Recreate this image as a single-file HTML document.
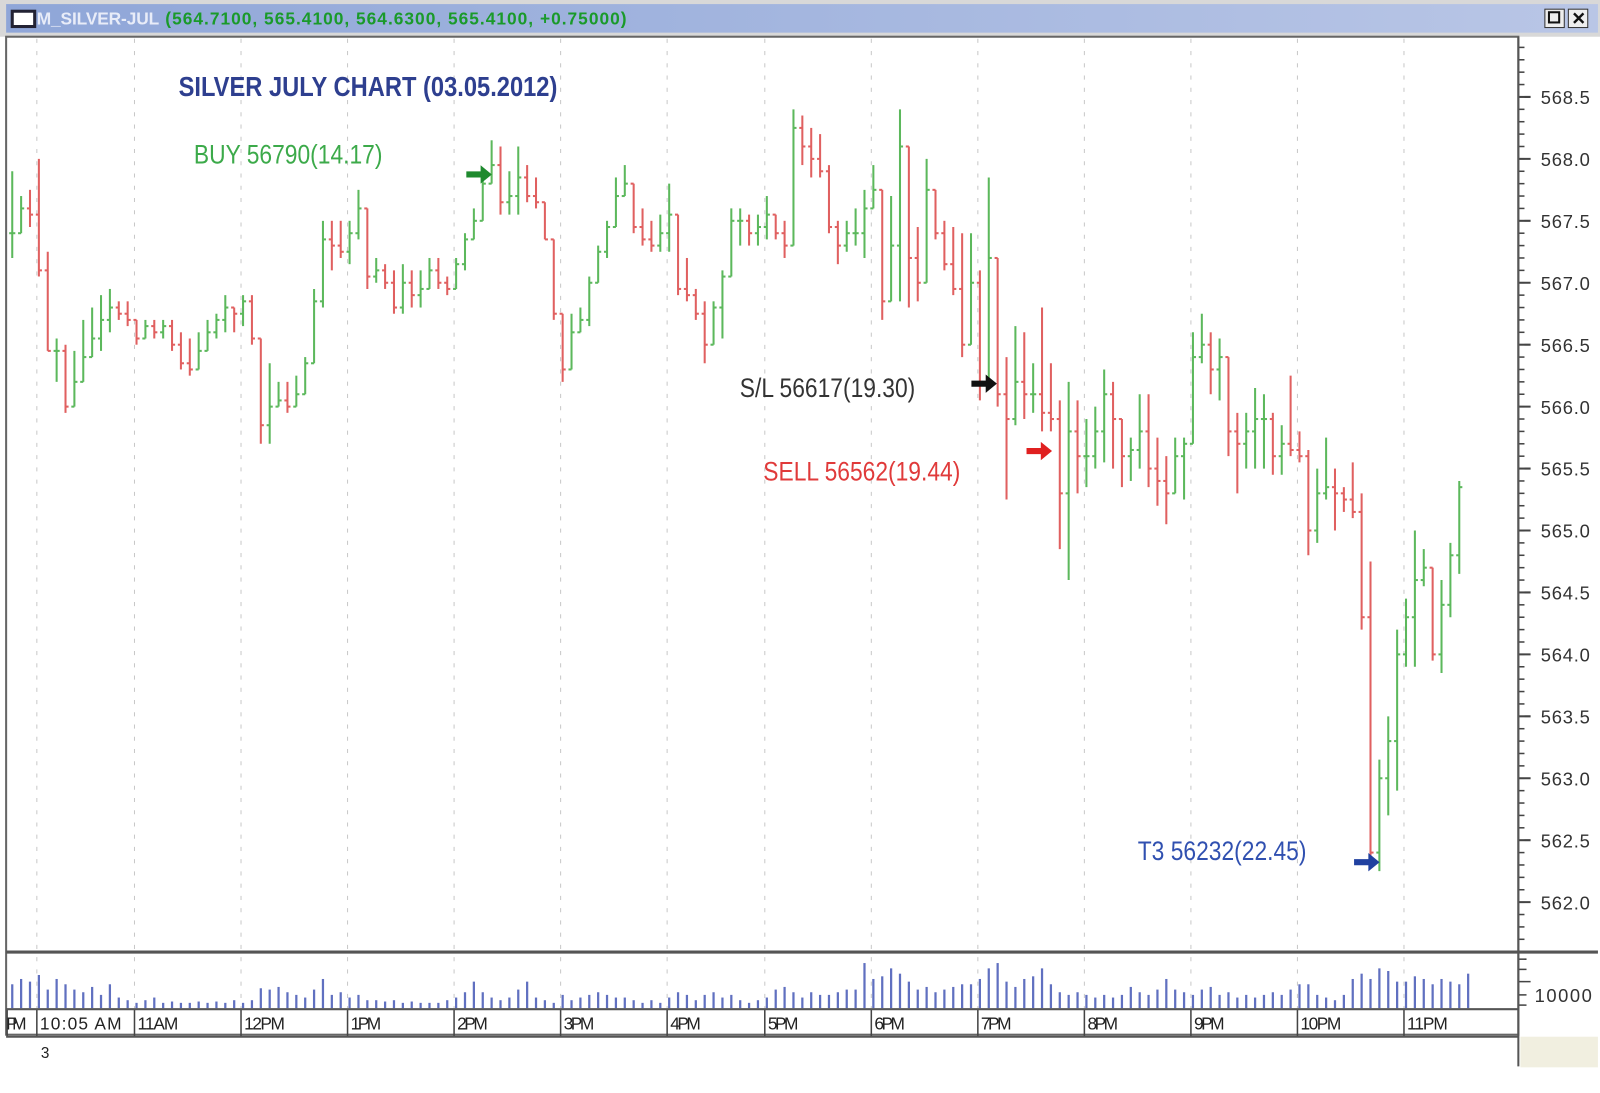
<!DOCTYPE html>
<html><head><meta charset="utf-8"><style>
body{margin:0;width:1600px;height:1066px;background:#fff;overflow:hidden;font-family:"Liberation Sans",sans-serif}
#wrap{position:relative;width:1600px;height:1066px;transform:scale(1.0204);transform-origin:0 0}
.t{position:absolute;white-space:nowrap;transform-origin:0 0}
</style></head><body>
<div id="wrap">
<svg id="svg" width="1600" height="1066">
<defs><linearGradient id="tb" x1="0" x2="1"><stop offset="0" stop-color="#8fa6d8"/><stop offset="1" stop-color="#b9c6e6"/></linearGradient></defs>
<rect x="0" y="0" width="1600" height="1066" fill="#fff"/>
<rect x="0" y="0" width="1600" height="36" fill="#d8d8d8"/>
<rect x="6" y="4" width="1560" height="28" fill="url(#tb)"/>
<rect x="12" y="11" width="22" height="15" fill="#fff" stroke="#223" stroke-width="3"/>
<text x="36" y="24" font-size="17" font-weight="bold" fill="#e8ecf8" font-family="Liberation Sans" textLength="120">M_SILVER-JUL</text>
<text x="162" y="24" font-size="17" font-weight="bold" fill="#1a9a2a" font-family="Liberation Sans" textLength="452">(564.7100, 565.4100, 564.6300, 565.4100, +0.75000)</text>
<rect x="1514" y="9" width="19" height="18" fill="#eee" stroke="#333"/>
<rect x="1518" y="12" width="10" height="10" fill="none" stroke="#111" stroke-width="2"/>
<rect x="1537" y="9" width="19" height="18" fill="#eee" stroke="#333"/>
<text x="1540" y="24" font-size="17" font-weight="bold" fill="#111">✕</text>
<rect x="6" y="36" width="1482" height="978" fill="none" stroke="#666" stroke-width="2"/>
<g id="grid"></g><g id="bars"></g><g id="vol"></g><g id="axis"></g>
<line x1="6" y1="933" x2="1566" y2="933" stroke="#555" stroke-width="3"/>
<line x1="6" y1="989" x2="1488" y2="989" stroke="#555" stroke-width="2"/>
<line x1="6" y1="1016" x2="1488" y2="1016" stroke="#555" stroke-width="2"/>
<line x1="1488" y1="36" x2="1488" y2="1045" stroke="#555" stroke-width="2"/>
<rect x="1490" y="1016" width="76" height="30" fill="#f1efe0"/>
<g>
<path d="M457 168h14v-6l11 9-11 9v-6h-14z" fill="#1e8a2e"/>
<path d="M952 373h14v-6l11 9-11 9v-6h-14z" fill="#111"/>
<path d="M1006 439h14v-6l11 9-11 9v-6h-14z" fill="#e02020"/>
<path d="M1327 842h14v-6l11 9-11 9v-6h-14z" fill="#2040a0"/>
</g>
</svg>
<div class="t" style="left:175px;top:70px;font-size:27px;font-weight:bold;color:#2e3f8f;transform:scaleX(0.86)">SILVER JULY CHART (03.05.2012)</div>
<div class="t" style="left:190px;top:136px;font-size:26px;color:#3caa4a;transform:scaleX(0.86)">BUY 56790(14.17)</div>
<div class="t" style="left:725px;top:365px;font-size:26px;color:#333;transform:scaleX(0.86)">S/L 56617(19.30)</div>
<div class="t" style="left:748px;top:447px;font-size:26px;color:#e03a3a;transform:scaleX(0.86)">SELL 56562(19.44)</div>
<div class="t" style="left:1115px;top:819px;font-size:26px;color:#3050b0;transform:scaleX(0.86)">T3 56232(22.45)</div>
</div>
<script>
const closes=[567.4,567.6,567.55,567.1,566.45,566.45,566.0,566.2,566.4,566.55,566.7,566.8,566.75,566.7,566.55,566.65,566.6,566.65,566.5,566.35,566.3,566.45,566.6,566.7,566.8,566.75,566.85,566.55,565.85,566.0,566.05,566.0,566.1,566.35,566.85,567.35,567.3,567.25,567.4,567.6,567.05,567.1,567.0,566.8,567.0,566.9,566.95,567.1,567.0,566.95,567.15,567.35,567.5,567.8,567.95,567.65,567.7,567.85,567.7,567.65,567.35,566.75,566.3,566.6,566.7,567.0,567.25,567.45,567.7,567.8,567.45,567.35,567.3,567.4,567.55,566.95,566.9,566.75,566.5,566.8,567.05,567.5,567.5,567.4,567.45,567.55,567.4,567.3,568.25,568.1,568.0,567.9,567.45,567.3,567.4,567.4,567.6,567.75,566.85,567.3,568.1,567.2,567.0,567.75,567.4,567.15,566.95,566.5,567.0,566.2,567.2,566.1,565.9,566.2,566.1,566.1,565.95,565.9,565.3,565.8,565.6,565.6,565.8,566.1,565.9,565.6,565.65,565.8,565.5,565.4,565.3,565.6,565.7,566.4,566.5,566.3,566.4,565.8,565.7,565.8,565.9,565.9,565.6,565.7,565.65,565.6,565.0,565.3,565.35,565.3,565.25,565.15,564.3,562.4,563.0,563.3,564.0,564.3,564.6,564.7,564.0,564.4,564.8,565.35];
const highs=[567.9,567.7,567.75,568.0,567.25,566.55,566.5,566.45,566.7,566.8,566.9,566.95,566.85,566.85,566.7,566.7,566.7,566.7,566.7,566.6,566.55,566.6,566.7,566.75,566.9,566.8,566.9,566.9,566.5,566.35,566.2,566.2,566.25,566.4,566.95,567.5,567.5,567.5,567.5,567.75,567.6,567.2,567.15,567.1,567.15,567.1,567.1,567.2,567.2,567.05,567.2,567.4,567.6,567.9,568.15,568.1,567.9,568.1,567.95,567.85,567.6,567.35,566.75,566.75,566.8,567.05,567.3,567.5,567.85,567.95,567.8,567.6,567.5,567.55,567.8,567.35,567.2,566.95,566.85,566.85,567.1,567.6,567.6,567.55,567.55,567.7,567.5,567.5,568.4,568.35,568.25,568.2,567.95,567.5,567.5,567.6,567.75,567.95,567.6,567.7,568.4,568.05,567.45,568.0,567.75,567.5,567.45,567.4,567.4,567.1,567.85,567.2,566.4,566.65,566.6,566.35,566.8,566.35,566.05,566.2,566.05,565.9,566.0,566.3,566.2,565.8,565.75,566.1,566.1,565.75,565.6,565.75,565.75,566.6,566.75,566.6,566.55,566.35,565.95,565.95,566.15,566.1,565.95,565.85,566.25,565.8,565.65,565.5,565.75,565.5,565.35,565.55,565.3,564.75,563.15,563.5,564.2,564.45,565.0,564.85,564.5,564.6,564.9,565.4];
const lows=[567.2,567.45,567.45,567.05,566.45,566.2,565.95,566.05,566.3,566.45,566.45,566.6,566.7,566.65,566.5,566.55,566.55,566.55,566.45,566.3,566.25,566.3,566.5,566.55,566.6,566.6,566.65,566.5,565.7,565.7,566.0,565.95,566.0,566.2,566.35,566.8,567.1,567.2,567.15,567.35,566.95,567.0,566.95,566.75,566.75,566.8,566.8,566.95,566.95,566.9,567.0,567.1,567.4,567.5,567.9,567.55,567.55,567.55,567.65,567.6,567.35,566.7,566.2,566.3,566.65,566.65,567.0,567.2,567.55,567.7,567.4,567.3,567.25,567.25,567.25,566.9,566.85,566.7,566.35,566.7,566.55,567.25,567.3,567.3,567.3,567.35,567.35,567.2,567.5,567.95,567.85,567.85,567.4,567.15,567.25,567.3,567.2,567.65,566.7,566.9,566.85,566.8,566.85,567.15,567.35,567.1,566.9,566.4,566.5,566.05,566.9,566.0,565.25,565.85,565.9,565.95,565.8,565.8,564.85,564.6,565.3,565.35,565.5,565.55,565.5,565.35,565.4,565.5,565.35,565.2,565.05,565.3,565.25,565.8,566.35,566.1,566.05,565.6,565.3,565.5,565.5,565.5,565.45,565.45,565.6,565.55,564.8,564.9,565.25,565.0,565.15,565.1,564.2,562.3,562.25,562.7,562.9,563.9,563.9,564.55,563.95,563.85,564.3,564.65];
const volumes=[18,22,20,25,14,22,18,14,12,16,10,18,8,6,4,6,8,4,5,4,4,5,4,5,4,6,4,6,15,14,16,12,10,8,14,22,10,12,8,10,6,6,5,6,4,5,4,4,4,6,8,12,20,12,8,6,8,14,20,8,6,4,10,6,8,10,12,10,8,8,6,4,6,4,8,12,10,6,10,12,8,10,6,4,6,8,14,16,12,8,12,10,10,12,14,14,34,22,24,30,26,20,14,16,12,14,16,18,18,22,30,34,20,16,22,24,30,18,12,10,12,10,8,10,8,10,16,12,10,14,22,14,12,10,14,16,10,12,8,10,8,10,12,10,14,18,18,10,8,6,10,22,26,22,30,28,20,20,24,22,18,22,20,18,26];
const timeLabels=["PM","10:05 AM","11AM","12PM","1PM","2PM","3PM","4PM","5PM","6PM","7PM","8PM","9PM","10PM","11PM"];
const timeBarIdx=[-3,3,14,26,38,50,62,74,85,97,109,121,133,145,157];
const priceTicks=[568.5,568.0,567.5,567.0,566.5,566.0,565.5,565.0,564.5,564.0,563.5,563.0,562.5,562.0];
const NS="http://www.w3.org/2000/svg";
const x0=12,step=8.7;
const xS=i=>x0+i*step;
const yP=p=>95+(568.5-p)*121.4;
const yV=v=>988-v*1.3;
function mk(tag,attrs,parent){const e=document.createElementNS(NS,tag);for(const k in attrs)e.setAttribute(k,attrs[k]);parent.appendChild(e);return e;}
const grid=document.getElementById('grid'),bars=document.getElementById('bars'),vol=document.getElementById('vol'),axis=document.getElementById('axis');
timeBarIdx.forEach((bi,k)=>{const x=xS(bi)-2;
 if(k>0){const g=mk('line',{x1:x,y1:38,x2:x,y2:988,stroke:'#c8c8c8','stroke-dasharray':'4 8'},grid);
 
 }
 const s=mk('line',{x1:Math.max(x,7),y1:989,x2:Math.max(x,7),y2:1016,stroke:'#444','stroke-width':1.5},axis);
 
 
 const t=mk('text',{x:Math.max(x+3,6),y:1009,'font-size':17,fill:'#222',textLength:timeLabels[k].length*10},axis);
 t.textContent=timeLabels[k];
 
 });
const t3=mk('text',{x:40,y:1037,'font-size':15,fill:'#222'},axis);t3.textContent='3';


closes.forEach((c,i)=>{const o=i>0?closes[i-1]:c;const up=c>=o;const col=up?'#5cb85c':'#e06060';const x=xS(i);
 const hi=Math.max(highs[i],o,c),lo=Math.min(lows[i],o,c);
 const g=mk('g',{stroke:col,'stroke-width':2},bars);
 
 
 mk('line',{x1:x,y1:yP(hi),x2:x,y2:yP(lo)},g);
 mk('line',{x1:x-3,y1:yP(o),x2:x,y2:yP(o)},g);
 mk('line',{x1:x,y1:yP(c),x2:x+3,y2:yP(c)},g);});
volumes.forEach((v,i)=>{const r=mk('line',{x1:xS(i),y1:988,x2:xS(i),y2:yV(v),stroke:'#6070c0','stroke-width':2.2},vol);
 
 });
priceTicks.forEach(p=>{const y=yP(p);mk('line',{x1:1488,y1:y,x2:1500,y2:y,stroke:'#444','stroke-width':2},axis);
 for(let j=1;j<5;j++){const yy=y+j*121.4/10;if(yy<925)mk('line',{x1:1488,y1:yy,x2:1494,y2:yy,stroke:'#444','stroke-width':1.5},axis);}
 for(let j=1;j<5;j++){const yy=y-j*121.4/10;if(yy>40&&p==568.5)mk('line',{x1:1488,y1:yy,x2:1494,y2:yy,stroke:'#444','stroke-width':1.5},axis);}
 const t=mk('text',{x:1510,y:y+7,'font-size':18,fill:'#333',textLength:48},axis);t.textContent=p.toFixed(1);
 
 });
[940,950,962,975,985].forEach(y=>mk('line',{x1:1488,y1:y,x2:y==962?1500:1496,y2:y,stroke:'#444','stroke-width':1.5},axis));
const vt=mk('text',{x:1504,y:982,'font-size':18,fill:'#333',textLength:56},axis);vt.textContent='10000';


</script>
</body></html>
